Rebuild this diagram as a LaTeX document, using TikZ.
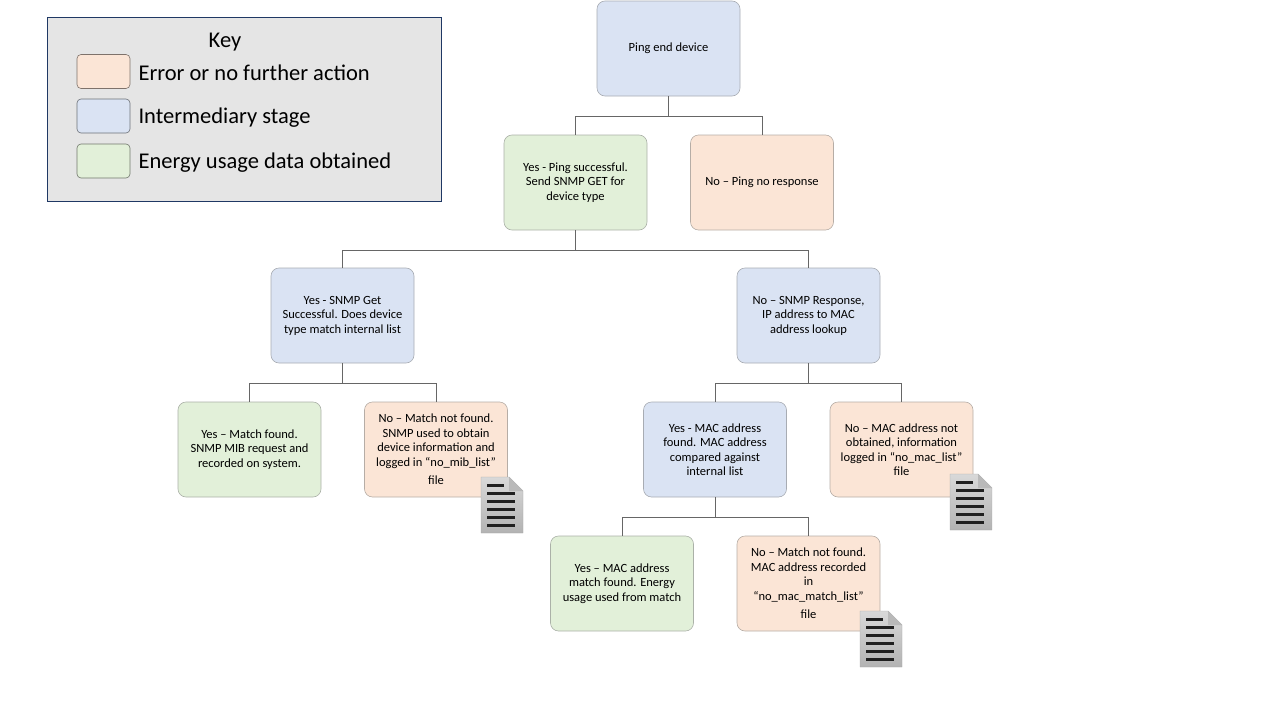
\documentclass[tikz,border=0pt]{standalone}
\usepackage{fontspec}
\setmainfont{Carlito}
\begin{document}
\begin{tikzpicture}[x=1pt,y=-1pt,
 box/.style={draw=#1!60!black!70, rounded corners=8pt, minimum width=143pt, minimum height=95pt, align=center, font=\fontsize{12.5}{14.5}\selectfont, line width=0.6pt},
 org/.style={box=orgc, fill=orgc},
 blu/.style={box=bluc, fill=bluc},
 grn/.style={box=grnc, fill=grnc},
 con/.style={draw=gray!80!black, line width=0.6pt},
 sw/.style={rounded corners=4pt, draw=#1!50!black, minimum width=53pt, minimum height=34pt, fill=#1, line width=0.6pt},
 kt/.style={anchor=west, font=\fontsize{22.5}{25}\selectfont}]
\definecolor{orgc}{HTML}{FBE5D6}
\definecolor{bluc}{HTML}{DAE3F3}
\definecolor{grnc}{HTML}{E2F0D9}
\definecolor{navy}{HTML}{1F3864}
\useasboundingbox (0,0) rectangle (1280,720);
\newcommand\fileicon[2]{%
 \begin{scope}[shift={(#1,#2)}]
 \shade[top color=gray!30, bottom color=gray!60, draw=gray!70] (-21,-28) -- (7,-28) -- (21,-14) -- (21,28) -- (-21,28) -- cycle;
 \fill[gray!55] (7,-28) -- (7,-14) -- (21,-14) -- cycle;
 \foreach \yy in {-12,-4,4,12,20} \draw[line width=3pt, gray!25!black] (-15,\yy) -- (13,\yy);
 \draw[line width=3pt, gray!25!black] (-15,-20) -- (2,-20);
 \end{scope}}
% key
\node[draw=navy, fill=gray!20, minimum width=394pt, minimum height=184pt, line width=0.8pt] (key) at (244,109) {};
\node[font=\fontsize{22.5}{25}\selectfont] (keyt) at (225,42) {Key};
\node[sw=orgc] (k1) at (103.5,71.5) {};
\node[sw=bluc] (k2) at (103.5,116) {};
\node[sw=grnc] (k3) at (103.5,161) {};
\node[kt] (k1t) at (135,73) {Error or no further action};
\node[kt] (k2t) at (135,118) {Intermediary stage};
\node[kt] (k3t) at (135,163) {Energy usage data obtained};
% nodes
\node[blu] (ping) at (668.5,48.5) {Ping end device};
\node[grn] (yp) at (575.5,182.5) {Yes - Ping successful.\\Send SNMP GET for\\device type};
\node[org] (np) at (762,182.5) {No -- Ping no response};
\node[blu] (ys) at (342.5,315.5) {Yes - SNMP Get\\Successful. Does device\\type match internal list};
\node[blu] (ns) at (808.5,315.5) {No -- SNMP Response,\\IP address to MAC\\address lookup};
\node[grn] (mf) at (249.5,449.5) {Yes -- Match found.\\SNMP MIB request and\\recorded on system.};
\node[org] (mn) at (436,449.5) {No -- Match not found.\\SNMP used to obtain\\device information and\\logged in “no\_mib\_list”\\[4pt] file};
\node[blu] (macf) at (715,449.5) {Yes - MAC address\\found. MAC address\\compared against\\internal list};
\node[org] (macn) at (901.5,449.5) {No -- MAC address not\\obtained, information\\logged in “no\_mac\_list”\\file};
\node[grn] (mm) at (622,583.5) {Yes -- MAC address\\match found. Energy\\usage used from match};
\node[org] (mmn) at (808.5,583.5) {No -- Match not found.\\MAC address recorded\\in\\“no\_mac\_match\_list”\\[4pt] file};
% connectors
\draw[con] (ping.south) -- ++(0,20) -| (yp.north);
\draw[con] (ping.south) ++(0,20) -| (np.north);
\draw[con] (yp.south) -- ++(0,20) -| (ys.north);
\draw[con] (yp.south) ++(0,20) -| (ns.north);
\draw[con] (ys.south) -- ++(0,20) -| (mf.north);
\draw[con] (ys.south) ++(0,20) -| (mn.north);
\draw[con] (ns.south) -- ++(0,20) -| (macf.north);
\draw[con] (ns.south) ++(0,20) -| (macn.north);
\draw[con] (macf.south) -- ++(0,20) -| (mm.north);
\draw[con] (macf.south) ++(0,20) -| (mmn.north);
\fileicon{502}{505}
\fileicon{971}{502}
\fileicon{881}{639}
\end{tikzpicture}
\end{document}
